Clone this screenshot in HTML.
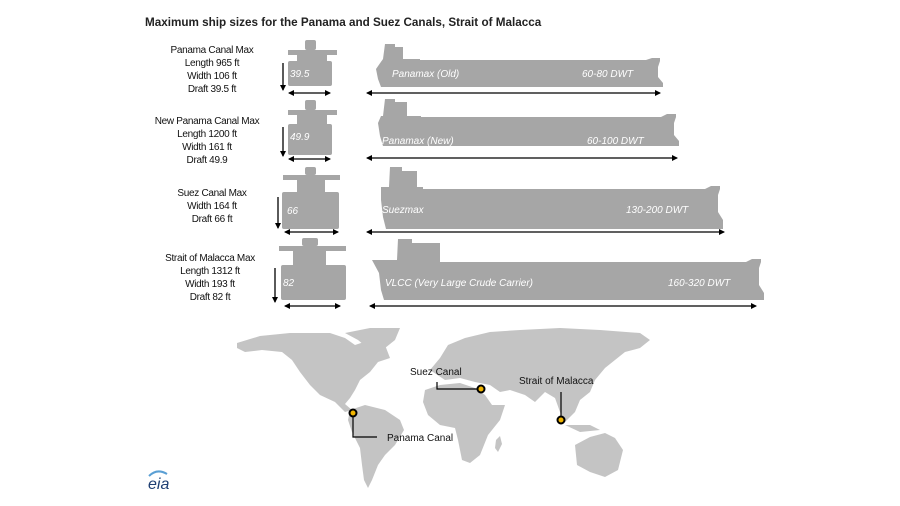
<!DOCTYPE html>
<html><head><meta charset="utf-8"><style>
body{margin:0;background:#fff;}
svg{display:block;font-family:"Liberation Sans",sans-serif;}
</style></head><body>
<svg width="900" height="506" viewBox="0 0 900 506" xmlns="http://www.w3.org/2000/svg">
<defs>
<marker id="ah" markerWidth="6" markerHeight="6" refX="5" refY="3" orient="auto-start-reverse" markerUnits="userSpaceOnUse"><path d="M0,0 L6,3 L0,6z" fill="#000"/></marker>
</defs>
<text x="145" y="26" font-size="11.7" font-weight="bold" fill="#222">Maximum ship sizes for the Panama and Suez Canals, Strait of Malacca</text>
<g font-size="10" fill="#111" text-anchor="middle" letter-spacing="-0.3">
<text x="212" y="53">Panama Canal Max</text><text x="212" y="66">Length 965 ft</text><text x="212" y="79">Width 106 ft</text><text x="212" y="92">Draft 39.5 ft</text>
<text x="207" y="124">New Panama Canal Max</text><text x="207" y="137">Length 1200 ft</text><text x="207" y="150">Width 161 ft</text><text x="207" y="163">Draft 49.9</text>
<text x="212" y="196">Suez Canal Max</text><text x="212" y="209">Width 164 ft</text><text x="212" y="222">Draft 66 ft</text>
<text x="210" y="261">Strait of Malacca Max</text><text x="210" y="274">Length 1312 ft</text><text x="210" y="287">Width 193 ft</text><text x="210" y="300">Draft 82 ft</text>
</g>
<g fill="#a6a6a6">
<rect x="305" y="40" width="11" height="10" rx="2"/><rect x="288" y="50" width="49" height="5"/><rect x="297" y="55" width="30" height="6"/><rect x="288" y="61" width="44" height="25" rx="2"/>
<rect x="305" y="100" width="11" height="10" rx="2"/><rect x="288" y="110" width="49" height="5"/><rect x="297" y="115" width="30" height="9"/><rect x="288" y="124" width="44" height="31" rx="2"/>
<rect x="305" y="167" width="11" height="8" rx="2"/><rect x="283" y="175" width="57" height="5"/><rect x="297" y="180" width="28" height="12"/><rect x="282" y="192" width="57" height="37" rx="2"/>
<rect x="302" y="238" width="16" height="8" rx="2"/><rect x="279" y="246" width="67" height="5"/><rect x="293" y="251" width="33" height="14"/><rect x="281" y="265" width="65" height="35" rx="2"/>
<path d="M385,44 h10 v3 h8 v12 h-20 z M383,59 h37 v1 h226 l6,-2 h8 v3 l-2,6 v10 l5,6 v4 h-282 l-3,-8 l-2,-10 z"/>
<path d="M385,99 h10 v3 h12 v14 h-24 z M381,116 h40 v1 h240 l6,-3 h9 v3 l-2,6 v12 l5,6 v5 h-296 l-3,-10 l-2,-13 z"/>
<path d="M390,167 h12 v4 h15 v16 h-28 z M381,187 h42 v2 h282 l6,-3 h9 v3 l-2,6 v17 l5,8 v9 h-337 l-3,-12 l-2,-17 z"/>
<path d="M398,239 h14 v4 h28 v17 h-43 z M372,260 h68 v2 h306 l6,-3 h9 v3 l-2,6 v17 l5,8 v7 h-380 l-3,-10 l-2,-17 z"/>
</g>
<g font-size="10" font-style="italic" fill="#fff">
<text x="290" y="77">39.5</text><text x="290" y="140">49.9</text><text x="287" y="214">66</text><text x="283" y="286">82</text>
<text x="392" y="77">Panamax (Old)</text><text x="582" y="77">60-80 DWT</text>
<text x="382" y="144">Panamax (New)</text><text x="587" y="144">60-100 DWT</text>
<text x="382" y="213">Suezmax</text><text x="626" y="213">130-200 DWT</text>
<text x="385" y="286">VLCC (Very Large Crude Carrier)</text><text x="668" y="286">160-320 DWT</text>
</g>
<g stroke="#000" stroke-width="1.3" fill="none">
<line x1="289" y1="93" x2="330" y2="93" marker-start="url(#ah)" marker-end="url(#ah)"/>
<line x1="283" y1="63" x2="283" y2="90" marker-end="url(#ah)"/>
<line x1="367" y1="93" x2="660" y2="93" marker-start="url(#ah)" marker-end="url(#ah)"/>
<line x1="289" y1="159" x2="330" y2="159" marker-start="url(#ah)" marker-end="url(#ah)"/>
<line x1="283" y1="127" x2="283" y2="156" marker-end="url(#ah)"/>
<line x1="367" y1="158" x2="677" y2="158" marker-start="url(#ah)" marker-end="url(#ah)"/>
<line x1="285" y1="232" x2="338" y2="232" marker-start="url(#ah)" marker-end="url(#ah)"/>
<line x1="278" y1="197" x2="278" y2="228" marker-end="url(#ah)"/>
<line x1="367" y1="232" x2="724" y2="232" marker-start="url(#ah)" marker-end="url(#ah)"/>
<line x1="285" y1="306" x2="340" y2="306" marker-start="url(#ah)" marker-end="url(#ah)"/>
<line x1="275" y1="268" x2="275" y2="302" marker-end="url(#ah)"/>
<line x1="370" y1="306" x2="756" y2="306" marker-start="url(#ah)" marker-end="url(#ah)"/>
</g>
<g fill="#c4c4c4">
<path d="M237,343 L260,336 L290,333 L330,333 L345,338 L355,345 L370,340 L385,345 L390,358 L378,362 L370,372 L360,380 L355,390 L350,398 L345,404 L352,410 L345,412 L335,402 L320,395 L310,385 L300,372 L292,360 L282,352 L262,350 L245,352 L237,348 Z"/>
<path d="M345,333 L370,328 L400,328 L395,340 L380,352 L370,350 L358,340 Z"/>
<path d="M350,410 L365,405 L385,410 L400,420 L404,430 L395,445 L385,455 L378,465 L372,480 L368,488 L364,480 L362,465 L360,448 L352,432 L348,420 Z"/>
<path d="M425,390 L440,385 L460,383 L475,388 L485,395 L492,405 L505,405 L500,420 L488,435 L480,455 L470,463 L462,460 L458,440 L455,428 L440,425 L428,415 L423,402 Z"/>
<path d="M430,370 L440,358 L448,345 L465,338 L490,332 L520,330 L560,328 L600,330 L640,333 L650,340 L640,348 L625,352 L615,360 L605,368 L595,380 L590,392 L580,400 L575,412 L565,422 L560,412 L555,398 L545,392 L535,402 L525,395 L510,390 L500,392 L490,385 L475,382 L460,378 L445,380 Z"/>
<path d="M565,425 L590,425 L600,430 L580,432 Z"/>
<path d="M575,445 L590,437 L605,433 L615,438 L623,450 L618,470 L605,477 L590,472 L577,465 Z"/>
<path d="M496,440 l4,-4 l2,8 l-4,8 l-3,-4 z"/>
</g>
<g stroke="#000" stroke-width="1.2" fill="none">
<polyline points="353,413 353,437 377,437"/><polyline points="437,382 437,389 480,389"/><polyline points="561,392 561,419"/>
</g>
<g fill="#f0b400" stroke="#000" stroke-width="2">
<circle cx="353" cy="413" r="3.5"/><circle cx="481" cy="389" r="3.5"/><circle cx="561" cy="420" r="3.5"/>
</g>
<g font-size="10" fill="#111"><text x="387" y="441">Panama Canal</text><text x="410" y="375">Suez Canal</text><text x="519" y="384">Strait of Malacca</text></g>
<text x="148" y="489" font-size="16" font-style="italic" fill="#1f3f73">eia</text>
<path d="M149,476 q8,-8 18,-2" stroke="#5a9fd4" stroke-width="2" fill="none"/>
</svg>
</body></html>
